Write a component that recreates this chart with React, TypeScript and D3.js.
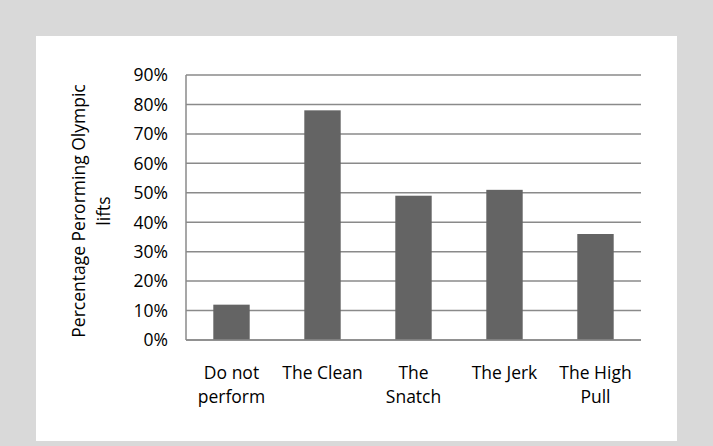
import React from "react";
import * as d3 from "d3";

const categories: string[][] = [
  ["Do not", "perform"],
  ["The Clean"],
  ["The", "Snatch"],
  ["The Jerk"],
  ["The High", "Pull"],
];
const values: number[] = [0.12, 0.78, 0.49, 0.51, 0.36];
const yTicks: number[] = [0, 0.1, 0.2, 0.3, 0.4, 0.5, 0.6, 0.7, 0.8, 0.9];
const yTitle: string[] = ["Percentage Perorming Olympic", "lifts"];

const W = 713;
const H = 446;
const FONT = "'Open Sans', sans-serif";
const FS = 17.5;

export default function App() {
  const plot = { left: 186, right: 641, top: 75, bottom: 340 };
  const keys = categories.map((c) => c.join(" "));
  const x = d3
    .scaleBand<string>()
    .domain(keys)
    .range([plot.left, plot.right])
    .paddingInner(0.6)
    .paddingOuter(0.3);
  const y = d3.scaleLinear().domain([0, 0.9]).range([plot.bottom, plot.top]);
  const fmt = d3.format(".0%");
  const titleCx = 211;

  return (
    <svg width={W} height={H} style={{ display: "block" }}>
      <style>{`body{margin:0}`}</style>
      <rect x={0} y={0} width={W} height={H} fill="#d9d9d9" />
      <rect x={36} y={36} width={641} height={405} fill="#ffffff" />
      {yTicks.map((t) => (
        <line
          key={"g" + t}
          x1={plot.left}
          x2={plot.right}
          y1={y(t)}
          y2={y(t)}
          stroke="#8a8a8a"
          strokeWidth={1.5}
        />
      ))}
      <line
        x1={plot.left}
        x2={plot.left}
        y1={plot.top}
        y2={plot.bottom}
        stroke="#8a8a8a"
        strokeWidth={1.5}
      />
      {values.map((v, i) => (
        <rect
          key={"b" + i}
          x={x(keys[i])}
          y={y(v)}
          width={x.bandwidth()}
          height={y(0) - y(v)}
          fill="#646464"
        />
      ))}
      <line
        x1={plot.left}
        x2={plot.right}
        y1={y(0)}
        y2={y(0)}
        stroke="#8a8a8a"
        strokeWidth={1.5}
      />
      {yTicks.map((t) => (
        <text
          key={"t" + t}
          x={168}
          y={y(t)}
          dy="0.36em"
          textAnchor="end"
          fontFamily={FONT}
          fontSize={FS}
          fill="#000"
        >
          {fmt(t)}
        </text>
      ))}
      {categories.map((lines, i) => (
        <text
          key={"c" + i}
          textAnchor="middle"
          fontFamily={FONT}
          fontSize={FS}
          fill="#000"
        >
          {lines.map((ln, j) => (
            <tspan
              key={j}
              x={(x(keys[i]) as number) + x.bandwidth() / 2}
              y={379 + j * 24}
            >
              {ln}
            </tspan>
          ))}
        </text>
      ))}
      {yTitle.map((ln, j) => (
        <text
          key={"yt" + j}
          transform={`translate(${85 + j * 24.5},${titleCx}) rotate(-90)`}
          textAnchor="middle"
          fontFamily={FONT}
          fontSize={FS}
          fill="#000"
        >
          {ln}
        </text>
      ))}
    </svg>
  );
}
